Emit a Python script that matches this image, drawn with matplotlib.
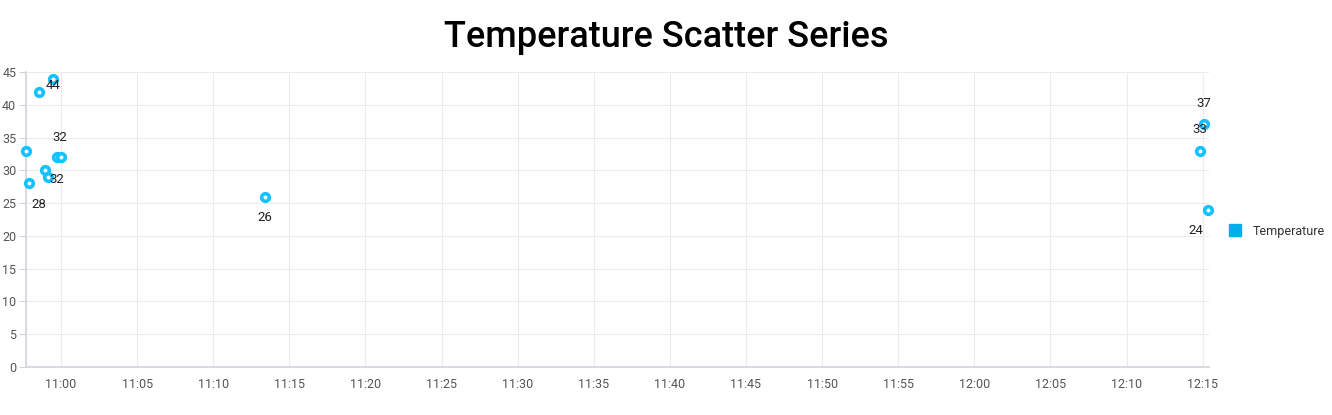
import matplotlib.pyplot as plt
import matplotlib.dates as mdates
from datetime import datetime

plt.rcParams['font.family'] = ['Roboto', 'DejaVu Sans']

# data
times = ['10:57:42', '10:57:54', '10:58:33', '10:58:57', '10:59:09', '10:59:28',
         '10:59:44', '11:00:00', '11:13:24', '12:14:50', '12:15:06', '12:15:22']
temps = [33, 28, 42, 30, 29, 44, 32, 32, 26, 33, 37, 24]
# which points carry a visible label, and where it sits (dx, dy in points)
label_pos = {1: (7, -15), 5: (0, -5), 6: (2, 14), 7: (-3, -16), 8: (0, -15),
             9: (0, 15), 10: (0, 15), 11: (-9, -15)}

x = [datetime.strptime('2024-01-01 ' + t, '%Y-%m-%d %H:%M:%S') for t in times]

color = '#13c2ff'
fig = plt.figure(figsize=(13.32, 4.15), dpi=100)
ax = fig.add_axes([26 / 1332, 48 / 415, (1209 - 26) / 1332, (367 - 72) / 415])

ax.scatter(x, temps, s=30, facecolor='white', edgecolor=color, linewidth=2.6,
           zorder=3, clip_on=False)

for i, (dx, dy) in label_pos.items():
    ax.annotate(str(temps[i]), (x[i], temps[i]), xytext=(dx, dy),
                textcoords='offset points', ha='center', va='center',
                fontsize=9.5, color='#222222')

ax.set_xlim(datetime(2024, 1, 1, 10, 57, 42), datetime(2024, 1, 1, 12, 15, 25))
ax.set_ylim(0, 45)
ax.set_yticks(range(0, 50, 5))
ax.xaxis.set_major_locator(mdates.MinuteLocator(byminute=range(0, 60, 5)))
ax.xaxis.set_major_formatter(mdates.DateFormatter('%H:%M'))

ax.grid(color='#ececec', linewidth=0.8)
ax.set_axisbelow(True)
for s in ['top', 'right']:
    ax.spines[s].set_visible(False)
for s in ['left', 'bottom']:
    ax.spines[s].set_color('#d4d0e0')
    ax.spines[s].set_linewidth(1.2)
ax.tick_params(axis='x', length=0, pad=8, labelsize=9, labelcolor='#555555')
ax.tick_params(axis='y', length=5, color='#d4d0e0', pad=2, labelsize=9,
               labelcolor='#555555')

fig.text(0.5, 0.91, 'Temperature Scatter Series', ha='center', va='center',
         fontsize=26, fontweight='medium', color='black')

fig.legend(handles=[plt.Line2D([], [], marker='s', linestyle='', markersize=9,
                               color='#00b0e8')],
           labels=['Temperature'], loc='center left',
           bbox_to_anchor=(1211 / 1332, 1 - 231 / 415), frameon=False,
           fontsize=9, handletextpad=0.4, labelcolor='#333333')

fig.savefig('out.png', dpi=100)
